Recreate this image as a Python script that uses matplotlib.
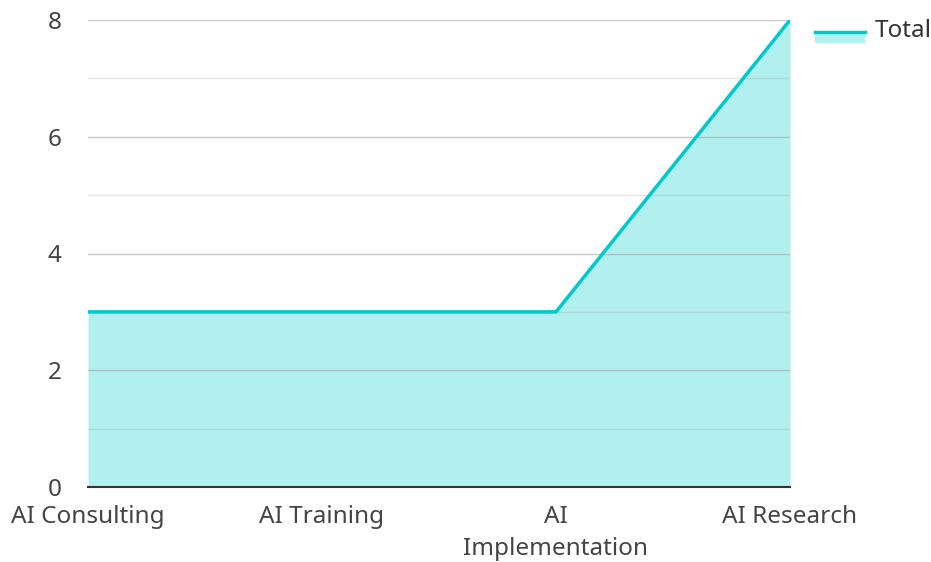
import matplotlib.pyplot as plt
from matplotlib.lines import Line2D
from matplotlib.patches import Rectangle

plt.rcParams['font.family'] = ['Noto Sans', 'DejaVu Sans']

categories = ['AI Consulting', 'AI Training', 'AI\nImplementation', 'AI Research']
totals = [3, 3, 3, 8]
series_name = 'Total'

line_color = '#00c9c9'
fill_color = '#b2efef'

fig = plt.figure(figsize=(9.31, 5.62), dpi=100)
ax = fig.add_axes([88 / 931, 1 - 487 / 562, 702 / 931, 467 / 562])

x = list(range(len(categories)))
ax.fill_between(x, totals, 0, color=fill_color, linewidth=0, zorder=1)
ax.plot(x, totals, color=line_color, linewidth=2.5, zorder=3, solid_capstyle='butt')

ax.set_xlim(0, len(categories) - 1)
ax.set_ylim(0, 8)
ax.set_yticks([0, 2, 4, 6, 8])
ax.set_yticks([1, 3, 5, 7], minor=True)
ax.set_xticks(x)
ax.set_xticklabels(categories, linespacing=1.45)

ax.grid(axis='y', which='major', color='#9e9e9e', alpha=0.55, linewidth=1, zorder=2)
ax.grid(axis='y', which='minor', color='#9e9e9e', alpha=0.25, linewidth=1, zorder=2)
ax.set_axisbelow(False)

for s in ['top', 'right', 'left']:
    ax.spines[s].set_visible(False)
ax.spines['bottom'].set_color('#333333')
ax.spines['bottom'].set_linewidth(1.5)
ax.spines['bottom'].set_zorder(4)

ax.tick_params(axis='both', which='both', length=0, labelsize=17.5, labelcolor='#444444')
ax.tick_params(axis='y', pad=19)
ax.tick_params(axis='x', pad=13)

# legend, drawn by hand
fig.add_artist(Rectangle((815 / 931, 1 - 43 / 562), 50 / 931, 12 / 562,
                         transform=fig.transFigure, color=fill_color, linewidth=0))
fig.add_artist(Line2D([815 / 931, 865 / 931], [1 - 32 / 562, 1 - 32 / 562],
                      transform=fig.transFigure, color=line_color, linewidth=2.5))
fig.text(875 / 931, 1 - 31 / 562, series_name, fontsize=17.5, color='#333333', va='center')

fig.savefig('out.png', dpi=100)
